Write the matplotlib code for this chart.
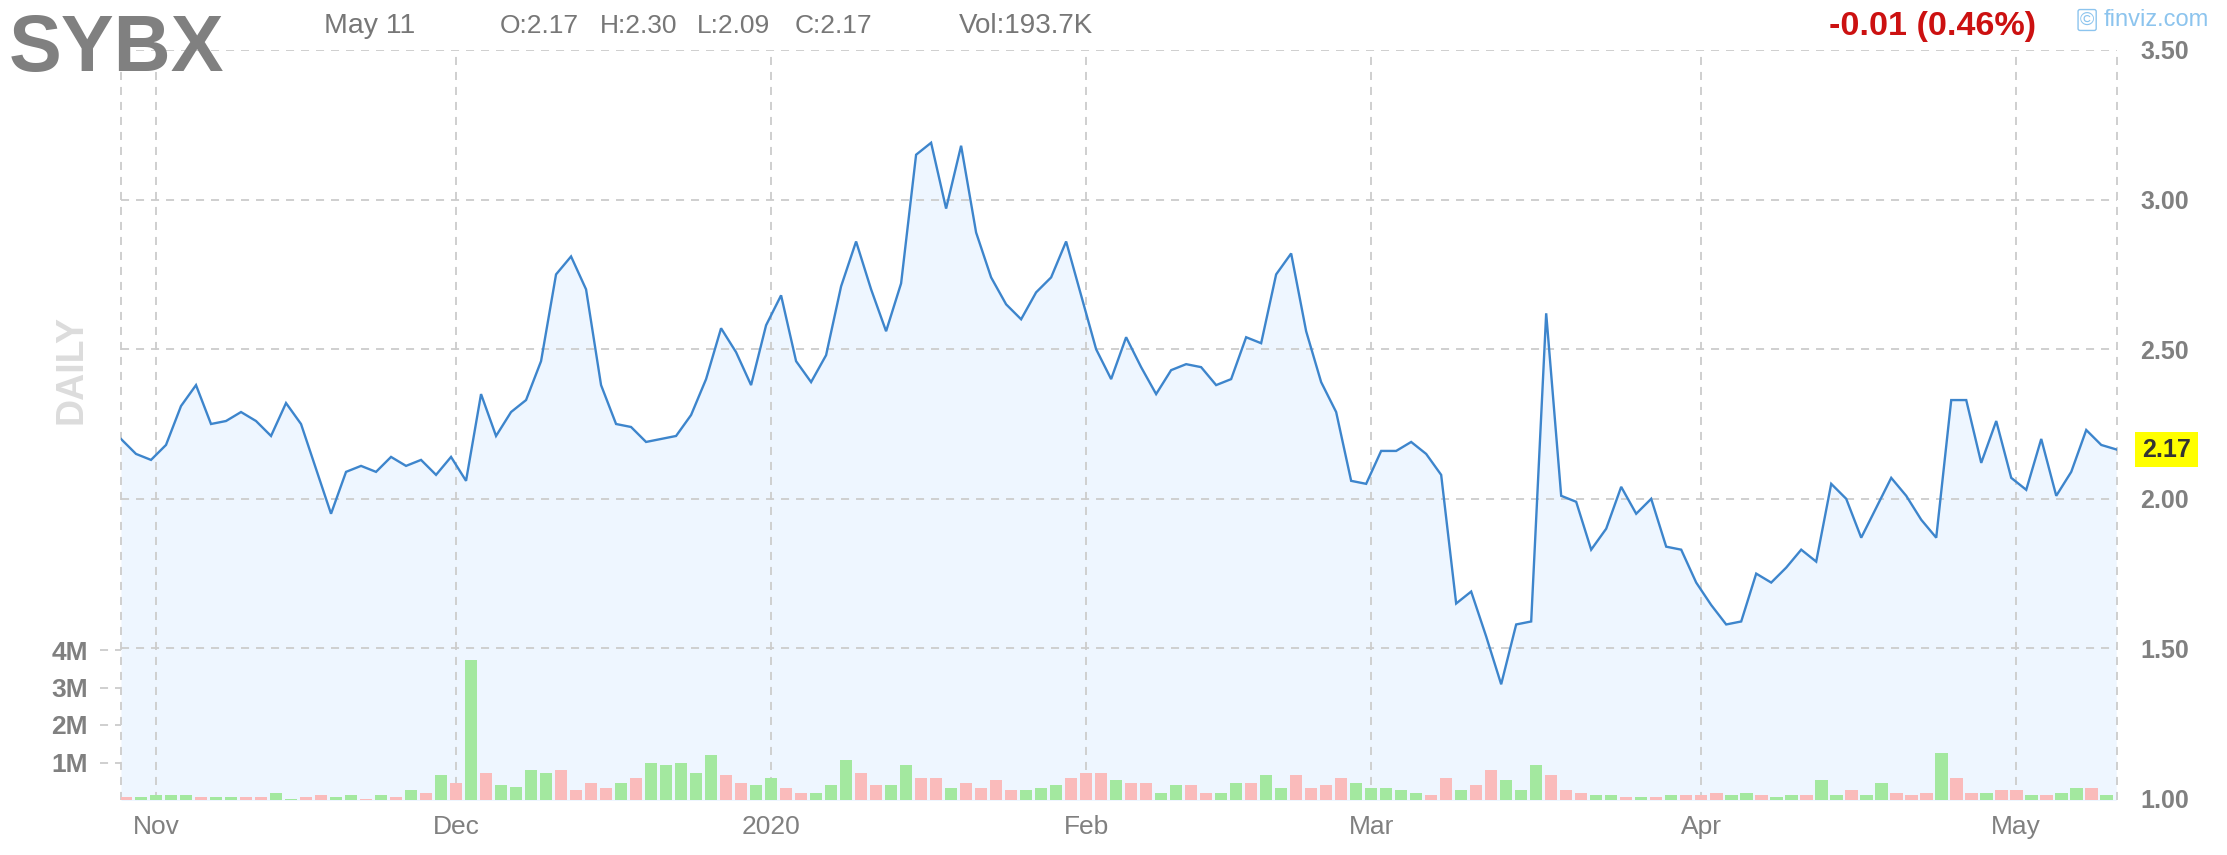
import numpy as np
import matplotlib
matplotlib.use("Agg")
import matplotlib.pyplot as plt
from matplotlib.patches import Rectangle

plt.rcParams['font.family'] = ['Liberation Sans', 'DejaVu Sans']
plt.rcParams['lines.scale_dashes'] = False

# daily close
close = [
    2.20, 2.15, 2.13, 2.18, 2.31, 2.38, 2.25, 2.26, 2.29, 2.26,
    2.21, 2.32, 2.25, 2.10, 1.95, 2.09, 2.11, 2.09, 2.14, 2.11,
    2.13, 2.08, 2.14, 2.06, 2.35, 2.21, 2.29, 2.33, 2.46, 2.75,
    2.81, 2.70, 2.38, 2.25, 2.24, 2.19, 2.20, 2.21, 2.28, 2.40,
    2.57, 2.49, 2.38, 2.58, 2.68, 2.46, 2.39, 2.48, 2.71, 2.86,
    2.70, 2.56, 2.72, 3.15, 3.19, 2.97, 3.18, 2.89, 2.74, 2.65,
    2.60, 2.69, 2.74, 2.86, 2.68, 2.50, 2.40, 2.54, 2.44, 2.35,
    2.43, 2.45, 2.44, 2.38, 2.40, 2.54, 2.52, 2.75, 2.82, 2.56,
    2.39, 2.29, 2.06, 2.05, 2.16, 2.16, 2.19, 2.15, 2.08, 1.65,
    1.69, 1.54, 1.38, 1.58, 1.59, 2.62, 2.01, 1.99, 1.83, 1.90,
    2.04, 1.95, 2.00, 1.84, 1.83, 1.72, 1.645, 1.58, 1.59, 1.75,
    1.72, 1.77, 1.83, 1.79, 2.05, 2.00, 1.87, 1.97, 2.07, 2.01,
    1.93, 1.87, 2.33, 2.33, 2.12, 2.26, 2.07, 2.03, 2.20, 2.01,
    2.09, 2.23, 2.18, 2.165,
]

# volume in millions, one bar per session
volume = [
    .07, .07, .13, .13, .13, .07, .07, .07, .07, .07,
    .20, .03, .07, .13, .07, .13, .03, .13, .07, .27,
    .20, .67, .46, 3.73, .73, .40, .34, .80, .73, .80,
    .27, .46, .33, .46, .60, 1.0, .93, 1.0, .73, 1.2,
    .67, .46, .40, .60, .33, .20, .20, .40, 1.07, .73,
    .40, .40, .93, .60, .60, .33, .46, .33, .53, .27,
    .27, .33, .40, .60, .73, .73, .53, .46, .46, .20,
    .40, .40, .20, .20, .46, .46, .67, .33, .67, .33,
    .40, .60, .46, .33, .33, .27, .20, .13, .60, .27,
    .40, .80, .53, .27, .93, .67, .27, .20, .13, .13,
    .07, .07, .07, .13, .13, .13, .20, .13, .20, .13,
    .07, .13, .13, .53, .13, .27, .13, .46, .20, .13,
    .20, 1.26, .60, .20, .20, .27, .27, .13, .13, .20,
    .33, .33, .13,
]
# g = up day, r = down day, ten per row
vol_side = (
    "rggggrggrr"
    "ggrrggrgrg"
    "rgrgrggggr"
    "rrrgrggggg"
    "rrggrrgggr"
    "rggrrgrrrr"
    "gggrrrgrrg"
    "grrggrggrr"
    "rrgggggrrg"
    "rrgggrrrgg"
    "rgrgrrrggr"
    "ggrggrggrr"
    "rgrrgrrgrg"
    "grg"
)

price_ticks = [1.0, 1.5, 2.0, 2.5, 3.0, 3.5]
vol_ticks = [1, 2, 3, 4]
month_names = ['Nov', 'Dec', '2020', 'Feb', 'Mar', 'Apr', 'May']
month_bars = [2, 22, 43, 64, 83, 105, 126]  # bar index of each month start

W, H = 2227, 855
GREY = '#808080'
GRID = '#CCCCCC'
DASH = (0, (5.8, 5.0))


def put(x, y, s, **kw):
    # place a text by pixel position
    return fig.text(x / W, 1 - y / H, s, **kw)


fig = plt.figure(figsize=(W / 100, H / 100), dpi=100, facecolor='white')
ax = fig.add_axes([121 / W, 1 - 800 / H, 1996 / W, 750 / H])
ax_vol = ax.twinx()

days = np.arange(len(close))
bar_x = np.arange(len(volume)) + 1 / 3
bar_colors = ['#A3E89F' if s == 'g' else '#FABBBB' for s in vol_side]

ax.fill_between(days, close, 0.9, color='#EEF6FF', lw=0, zorder=1)
ax.plot(days, close, color='#3D85CC', lw=1.7, zorder=3, solid_joinstyle='miter')
ax_vol.bar(bar_x, volume, width=0.84, color=bar_colors, lw=0)

ax.set_xlim(0, len(close) - 1 + 0.05)
ax.set_ylim(1 - 2 / 299.2, 3.5)
ax_vol.set_ylim(0, 20)

for a in (ax, ax_vol):
    for s in a.spines.values():
        s.set_visible(False)

ax.set_xticks(np.array(month_bars) + 1 / 3)
ax.set_xticklabels(month_names, fontsize=19, color=GREY)
ax.set_yticks(price_ticks)
ax.set_yticklabels([f'{p:.2f}' for p in price_ticks], fontsize=18, color=GREY, fontweight='bold')
ax.yaxis.tick_right()
ax.tick_params(axis='y', length=0, pad=17)
ax.tick_params(axis='x', length=0, pad=11)
ax.grid(True, color=GRID, lw=1.3, ls=DASH)
ax.set_axisbelow(False)
ax.yaxis.get_gridlines()[0].set_visible(False)

# dashed frame on left and right edge
for edge in ax.get_xlim():
    ax.axvline(edge, color=GRID, lw=1.3, ls=DASH, clip_on=False, zorder=2.5)

ax_vol.set_yticks(vol_ticks)
ax_vol.set_yticklabels([f'{v}M' for v in vol_ticks], fontsize=19, color=GREY, fontweight='bold')
ax_vol.yaxis.tick_left()
ax_vol.tick_params(axis='y', length=0, pad=24)
for v in vol_ticks:
    ax_vol.plot([-21 / 1996, 0], [v, v], transform=ax_vol.get_yaxis_transform(),
                color=GRID, lw=1.3, ls=DASH, clip_on=False)

# header texts
put(9, 51, 'SYBX', fontsize=57, fontweight='bold', color=GREY, va='center', zorder=5)
put(324, 26, 'May 11', fontsize=20.5, color='#777777', va='center')
for x, s in [(500, 'O:2.17'), (600, 'H:2.30'), (697, 'L:2.09'), (795, 'C:2.17')]:
    put(x, 26, s, fontsize=19, color='#777777', va='center')
put(959, 26, 'Vol:193.7K', fontsize=20, color='#777777', va='center')
put(2036, 26, '-0.01 (0.46%)', fontsize=24.6, fontweight='bold', color='#CC1111', va='center', ha='right')
put(2080, 20, '©', fontsize=14, color='#8CC4EE', va='center',
    bbox=dict(boxstyle='round,pad=0.1', fc='none', ec='#8CC4EE', lw=1))
put(2104, 20, 'finviz.com', fontsize=17, color='#8CC4EE', va='center')
put(71, 369, 'DAILY', fontsize=27, fontweight='bold', color='#DCDCDC', rotation=90, va='center', ha='center')

# last price tag
fig.add_artist(Rectangle((2135 / W, 1 - 467 / H), 63 / W, 35 / H, transform=fig.transFigure,
                         color='#FFFF00', lw=0))
put(2166.5, 450, f'{2.17:.2f}', fontsize=18, fontweight='bold', color='#333333', va='center', ha='center')

fig.savefig('out.png', dpi=100)
